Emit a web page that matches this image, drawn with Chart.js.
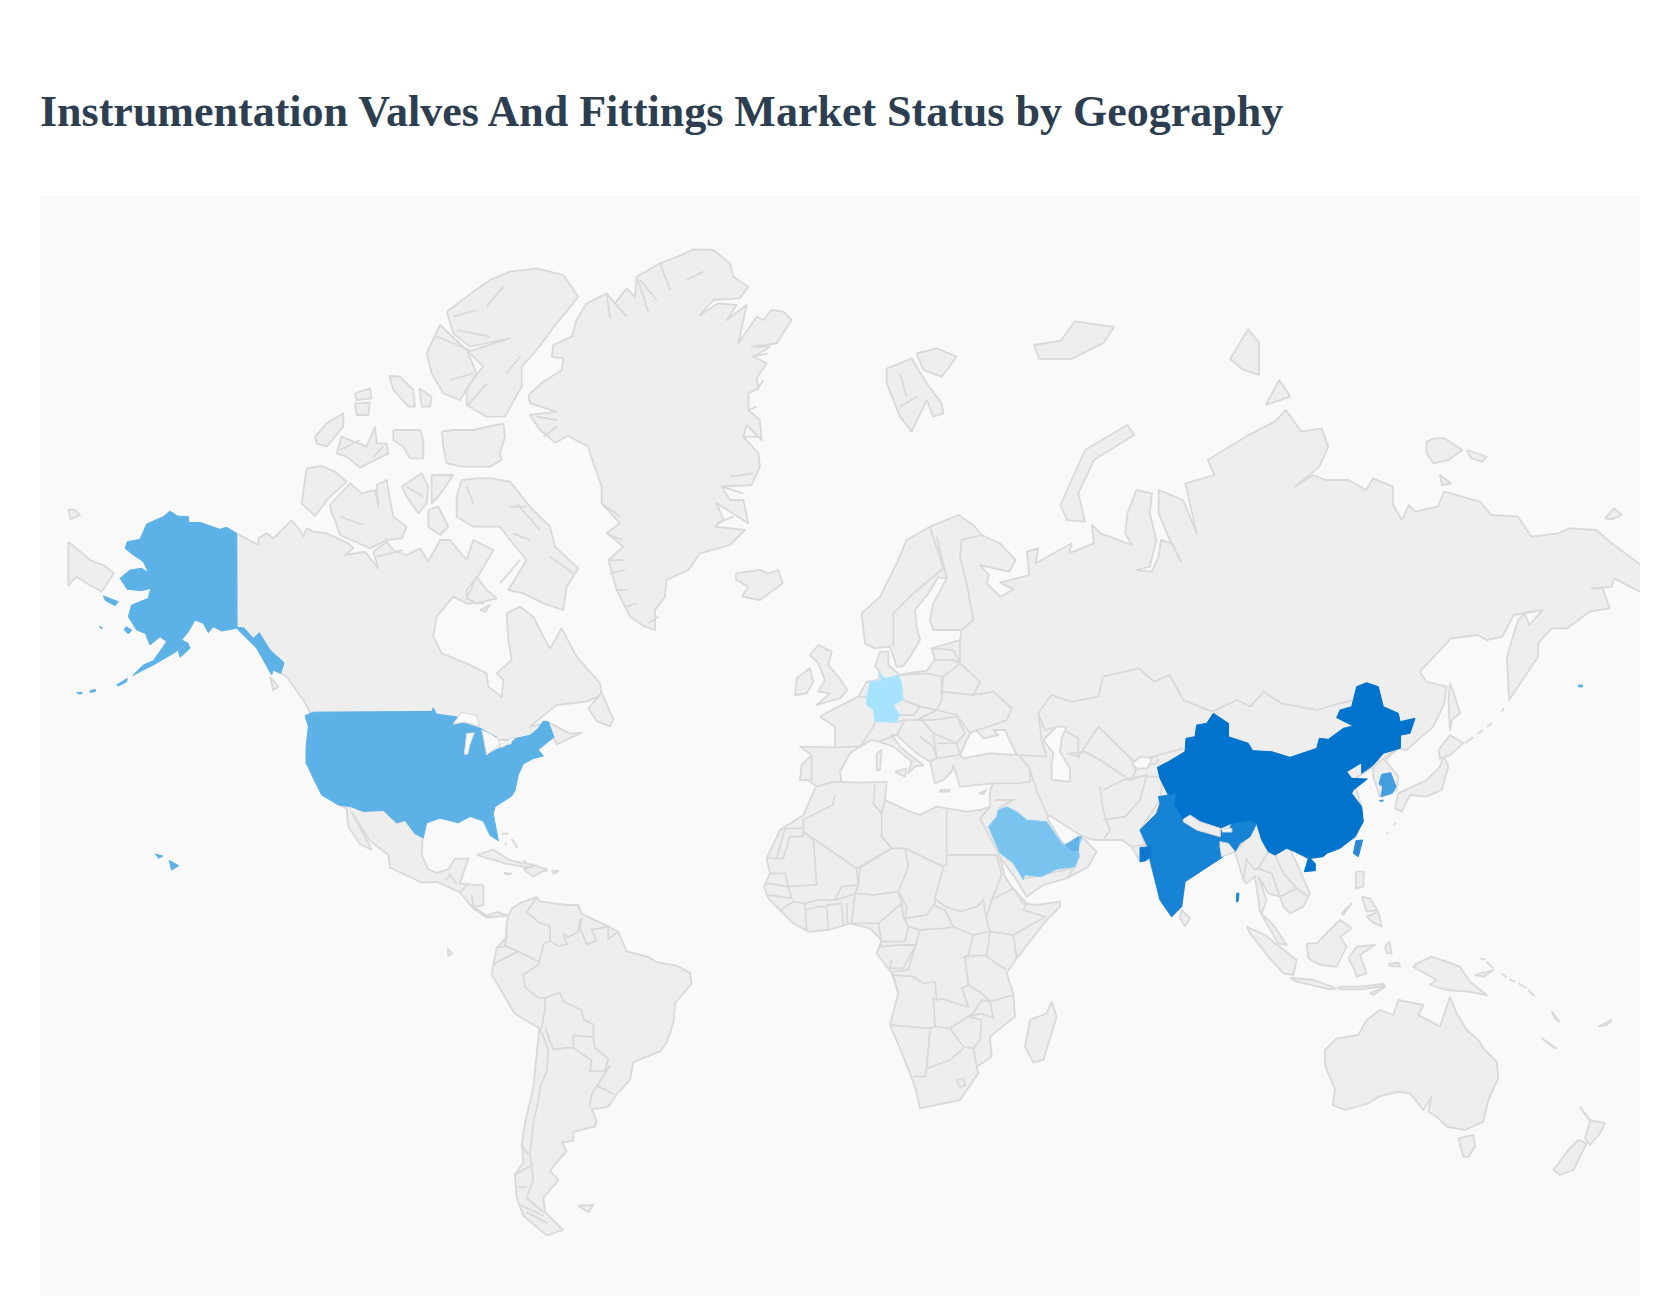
<!DOCTYPE html>
<html><head><meta charset="utf-8">
<style>
html,body{margin:0;padding:0;background:#fff;width:1680px;height:1304px;overflow:hidden}
h1{position:absolute;left:40px;top:85px;margin:0;font:bold 44px/54px "Liberation Serif","Times New Roman",serif;color:#2c3e50;white-space:nowrap}
#wrap{position:absolute;left:40px;top:196px;width:1600px;height:1100px;background:#f9f9f9}
</style></head><body>
<h1>Instrumentation Valves And Fittings Market Status by Geography</h1>
<div id="wrap"><canvas id="map" width="1600" height="1100"></canvas></div>
<script src="https://cdn.jsdelivr.net/npm/chart.js@4"></script>
<script>
// Reading frames: [originX, originY, scaleX, scaleY]
const NA=[40,240,3,3], GR=[500,240,3,3], RU=[960,380,2.24,3], AM=[280,680,3,2.8], AF=[760,640,3,3], AS=[1140,680,3,3], OV=[0,0,.9333,.9333];
const pts=(f,a)=>{const o=[];for(let i=0;i<a.length;i+=2)o.push({x:f[0]+a[i]/f[2],y:f[1]+a[i+1]/f[3]});return o;};

const colorUSA='#5cb1e6', colorChina='#0073cc', colorIndia='#1783d4', colorSaudi='#79c4ef', colorGermany='#a7e3fd', colorKorea='#439fe0', colorTaiwan='#2a8ad6';

// Canada and Arctic
const canadaMain=[590,880,655,915,655,895,680,880,700,895,735,860,755,842,780,870,790,890,800,865,820,875,860,880,925,910,940,925,915,945,975,935,1015,985,1000,935,1040,905,1060,930,1100,945,1140,925,1165,965,1200,900,1230,900,1280,960,1300,900,1360,930,1320,1000,1280,1050,1280,1075,1330,1090,1280,1090,1240,1070,1190,1130,1180,1190,1205,1240,1280,1270,1340,1300,1345,1340,1385,1370,1390,1320,1370,1300,1415,1260,1405,1200,1400,1120,1440,1100,1480,1130,1510,1190,1530,1225,1565,1165,1610,1250,1680,1330,1685,1365,1640,1385,1550,1395,1470,1459,1530,1449,1590,1481,1625,1478,1550,1513,1540,1491,1400,1500,1000,1500,822,1440,790,1380,740,1310,722,1300,700,1290,640,1195,590,1162];
const victoriaIs=[870,795,930,730,965,760,1005,750,1015,800,1010,735,1040,720,1050,780,1060,830,1100,860,1085,895,1040,900,990,925,900,885,885,840,875,820];
const banksIs=[800,685,845,678,885,695,920,725,865,775,825,828,785,790];
const melvilleIs=[890,640,905,590,955,610,980,620,1005,560,1010,610,1040,610,1045,640,960,683,920,650];
const patrickIs=[825,590,860,550,910,520,910,560,860,620,830,610];
const arcticA=[945,460,990,445,995,475,950,480], arcticB=[945,490,990,488,985,525,950,525], arcticC=[1048,408,1080,410,1120,450,1125,500,1105,500,1060,450], arcticD=[1138,445,1175,470,1170,500,1145,500];
const bathurstIs=[1060,570,1100,570,1140,570,1150,600,1150,655,1110,655,1090,620,1060,600];
const devonIs=[1205,575,1240,570,1300,570,1390,550,1395,590,1380,640,1385,660,1350,680,1265,680,1220,670,1210,620];
const walesIs=[1085,740,1145,700,1165,740,1160,790,1135,820,1100,770];
const somersetIs=[1175,705,1240,705,1195,770,1175,790];
const boothia=[1165,810,1195,800,1225,860,1200,885,1165,860];
const baffinIs=[1250,770,1265,720,1310,715,1360,715,1380,720,1410,725,1470,800,1530,860,1545,920,1615,985,1580,1040,1570,1110,1510,1090,1450,1060,1405,1050,1460,960,1410,900,1380,860,1300,860,1250,830];
const southamptonIs=[1280,1075,1310,1010,1340,1050,1370,1075,1310,1090];
const coatsIs=[1320,1110,1350,1095,1335,1115];
const ellesmereIs=[1220,215,1300,155,1350,120,1410,95,1490,85,1570,105,1615,170,1550,250,1490,330,1445,380,1445,440,1395,530,1340,530,1280,495,1280,440,1330,380,1285,335,1410,295,1290,320,1240,280];
const axelIs=[1160,340,1200,255,1280,330,1310,400,1260,480,1210,460,1175,400];
const vancouverIs=[690,1310,715,1340,700,1350];
const chukotkaWest=[85,905,150,960,190,975,222,1000,185,1055,140,1030,110,1010,85,1035];
const wrangelWest=[85,808,105,810,120,825,92,838];
const arcticFjords=[[1240,230,1310,210],[1250,270,1350,290],[1280,500,1340,430],[1190,290,1290,330],[1430,790,1500,870],[1380,1030,1440,960],[1530,950,1600,1000],[1410,800,1460,800],[1230,420,1300,400],[1340,200,1390,140],[1400,400,1440,350],[900,630,960,600],[1000,650,1030,620],[900,830,970,855],[1100,740,1150,770],[1280,740,1300,790],[1420,880,1470,900],[1010,950,1090,930]];

// Greenland and North Atlantic
const greenland=[85,465,130,425,185,390,190,355,155,350,160,315,215,290,230,240,260,190,320,160,345,190,380,145,405,170,410,110,480,70,545,45,580,28,640,30,690,70,700,110,745,140,720,175,640,180,600,225,655,190,710,195,680,240,740,195,715,310,770,230,790,240,815,210,850,215,875,240,830,310,755,320,810,320,760,350,800,370,770,415,775,445,745,460,745,510,780,540,785,600,740,555,730,590,775,640,780,680,755,735,665,740,690,780,730,780,745,850,650,790,670,840,645,860,735,870,690,915,600,940,565,990,500,1020,495,1070,465,1110,465,1170,435,1160,390,1130,350,1050,325,960,370,920,320,880,360,850,305,790,305,740,270,640,265,620,205,588,165,608,120,570,90,525,170,515,90,490];
const iceland=[708,1000,745,995,780,990,805,1000,835,990,848,1030,780,1080,725,1070,745,1040,708,1020];
const svalbardA=[1160,385,1200,370,1235,355,1280,430,1325,490,1330,520,1300,530,1280,480,1235,575,1200,530,1160,430];
const svalbardB=[1250,340,1310,325,1370,350,1325,410,1270,390];
const greenlandFjords=[[320,160,330,235],[345,190,380,230],[410,110,445,215],[420,120,470,180],[480,70,510,150],[560,120,610,95],[320,880,365,900],[305,790,360,830],[330,960,375,960],[330,1000,375,990],[350,1050,385,1050],[665,740,730,760],[690,710,760,700],[730,590,775,590],[650,850,700,830],[745,510,770,500],[775,445,790,420],[755,350,805,340],[110,530,170,540],[130,590,170,560],[380,1100,410,1090],[445,1150,475,1130],[1200,400,1220,470],[1200,500,1250,470]];

// Eurasia outline, in pieces
const eurasiaNorthWest=[355,120,360,95,345,80,360,35,385,35,385,75,420,105,440,100,500,92,525,60,515,25,600,0,605,-30,520,-30,510,-60,520,-110,560,-185,535,-188,505,-140,465,-90,470,-40,480,0,450,50,430,78,410,80,390,20,345,25,315,10,305,-80,360,-130,410,-230,440,-300,510,-340,595,-375,640,-345,665,-315,720,-290];
const eurasiaNorth=[125,540,110,575,60,560,45,555,65,585,60,610,90,650,120,628,90,608,155,585,150,515,175,505,170,550,250,490,245,520,300,490,295,435,315,460,385,495,370,460,375,400,395,330,430,340,425,400,440,480,425,560,395,570,430,575,445,530,450,480,475,490,495,545,470,480,445,400,445,330,500,360,530,460,505,310,570,285,555,240,640,170,705,125,730,90,765,155,810,145,825,200,805,260,750,320,790,285,820,300,870,300,910,330,925,295,970,320,970,375,990,420,1005,375,1020,395,1070,380,1085,335,1165,365,1190,405,1250,410,1280,470,1340,460,1365,445,1425,450,1460,490,1530,560,1530,640,1465,595,1460,620,1415,625,1440,625,1455,685,1410,695,1360,745,1325,745,1295,790,1295,830,1250,920,1230,960,1225,830,1250,720,1265,700,1275,735,1305,690,1240,705,1215,770,1180,780,1160,765,1100,775,1030,875,1045,905,1090,920,1085,970,1060,1040,1000,1110];
const eurasiaEast=[775,205,735,240,775,290,770,330,720,350,700,290,700,260,640,300,665,380,650,470,560,520,510,540,450,505,510,640,490,680,450,700,430,680,420,650,385,640,355,590,380,660,365,700,400,735,440,795,415,790,380,730,360,695,345,590,320,610,310,600,285,515,245,530,135,605,125,680,95,710,60,660,30,540,15,540,0,545];
const eurasiaSouthWest=[1140,665,1115,620,1085,600,1050,600,1000,600,970,590,945,575,870,527,862,535,905,605,935,625,960,590,975,600,1010,635,985,680,920,715,850,735,800,770,770,720,720,650,660,535,690,500,690,450,700,430,600,440,580,375,575,395,550,420,525,430,510,365,470,340,410,285,395,285,425,325,470,360,490,375,465,380,445,400,455,365,400,320,355,305,335,300,300,320,270,340,240,395,245,430,170,440,145,420,120,420,125,375,155,345,120,320,225,322,225,260,180,230,225,205,295,170,320,125];

// Islands of Europe and Asia
const britain=[150,45,175,15,215,35,205,75,235,110,262,150,240,175,170,195,210,160,175,155,195,120,175,70];
const ireland=[110,115,150,85,160,125,140,160,105,165];
const sardinia=[350,340,365,330,360,390,350,390], sicily=[405,395,440,385,435,410], crete=[540,450,570,450,568,455,540,455], cyprus=[655,460,680,450,670,462];
const novayaZemlya=[225,375,280,210,375,135,390,165,300,240,265,340,280,425,240,420];
const severnayaA=[685,75,715,0,740,50];
const severnayaB=[1148,335,1165,307,1175,320,1175,350,1160,345];
const franzJosef=[965,322,990,318,1003,300,1040,305,1030,320,1000,335,970,335];
const newSiberianA=[1045,185,1062,175,1085,175,1125,210,1095,240,1060,250,1045,220];
const newSiberianB=[1135,210,1180,230,1170,245,1145,235];
const newSiberianC=[1075,285,1100,310,1080,315];
const wrangelEast=[1445,415,1465,385,1482,405,1460,418];
const sakhalin=[930,10,945,50,960,100,935,120,930,150,925,60];
const honshu=[775,340,860,300,900,260,910,225,925,260,905,330,860,350,810,345,785,395,765,385];
const hokkaido=[895,210,930,165,970,190,930,225,900,235];
const sriLanka=[125,690,150,715,135,738,120,715];
const sumatra=[320,740,375,765,470,840,460,885,430,880,385,830,330,760];
const java=[450,893,520,900,590,925,570,928,470,905];
const lesserSunda=[595,920,660,920,730,912,735,918,660,928,600,928];
const borneo=[500,790,530,790,600,720,635,745,600,770,620,800,590,860,540,855,505,835];
const sulawesi=[625,835,650,800,705,795,660,825,680,880,650,890,640,860];
const luzon=[648,575,672,575,670,620,650,625];
const visayas=[665,650,690,655,712,690,680,695];
const mindanao=[680,710,715,695,725,740,695,725];
const palawan=[605,700,635,670,610,705];
const newGuinea=[830,850,875,830,920,845,960,860,990,905,1040,945,985,935,920,930,870,915,890,900,820,860];
const newBritain=[1005,885,1060,870,1030,890];
const timor=[690,940,735,920,700,945];
const seram=[745,852,775,848,780,860,750,858];
const halmahera=[735,800,748,785,755,820,742,820];
const australia=[555,1110,590,1075,655,1065,680,1020,720,990,760,1005,775,960,850,975,835,1005,900,1040,930,950,950,1000,980,1050,1015,1080,1030,1105,1070,1145,1075,1195,1045,1260,1030,1325,975,1350,920,1340,890,1310,865,1295,875,1250,850,1290,810,1240,775,1235,715,1250,685,1270,615,1290,578,1275,585,1230,555,1155];
const tasmania=[955,1375,1000,1365,1005,1400,985,1430,970,1430];
const nzNorth=[1320,1280,1350,1320,1395,1330,1380,1360,1350,1395,1335,1375,1350,1325];
const nzSouth=[1315,1380,1340,1390,1300,1470,1260,1485,1240,1470,1285,1410];
const fiji=[1375,1040,1415,1020,1400,1035];
const newCaledonia=[1205,1075,1248,1105,1240,1102];
const vanuatu=[1235,995,1258,1025,1245,1015];

// Americas
const newfoundland=[925,80,965,35,1000,110,990,130,950,115];
const mexicoCentral=[175,350,215,355,250,368,310,365,350,400,375,393,405,430,428,442,425,490,445,530,470,540,505,530,525,500,565,500,540,570,610,575,610,630,580,635,620,660,650,650,685,660,620,665,580,640,540,595,495,575,470,565,425,567,330,525,325,490,270,450,215,370,275,475,240,460,205,410,200,360];
const southAmerica=[685,660,695,640,720,625,770,608,780,620,860,630,895,630,905,655,985,690,1015,705,1040,760,1105,775,1130,790,1190,800,1230,820,1235,850,1185,905,1180,960,1160,1015,1140,1040,1060,1070,1050,1120,1010,1160,985,1195,950,1200,935,1200,950,1235,945,1250,880,1265,880,1290,845,1295,860,1320,830,1350,810,1375,835,1400,790,1450,795,1490,850,1540,800,1555,730,1500,710,1450,705,1385,730,1350,725,1300,735,1240,760,1140,778,975,705,935,670,880,635,825,640,795,650,750,680,720,680,680];
const falklands=[895,1472,940,1470,925,1490];
const galapagos=[503,752,516,765,505,772];
const cuba=[590,490,640,475,690,505,770,520,800,535,745,525,680,515];
const hispaniola=[730,530,765,520,800,530,760,550];
const jamaica=[672,540,695,542,680,545];
const puertoRico=[815,533,835,535,820,542];
const bahamas=[[665,430,685,430],[695,445,712,470],[730,505,740,512],[676,455,678,462]];
const chileFjords=[[725,1300,745,1330],[705,1385,760,1355],[715,1420,740,1420],[720,1470,790,1500],[740,1490,800,1520]];

// Africa
const africa=[170,440,220,425,300,428,380,425,375,480,440,510,480,525,530,500,620,515,660,510,690,500,660,535,720,650,735,710,790,790,830,795,900,785,900,800,860,840,770,955,740,1000,760,1060,765,1130,690,1190,695,1250,650,1280,655,1300,600,1380,480,1405,465,1340,430,1250,390,1155,415,1060,395,1000,350,940,365,900,330,865,270,850,205,870,145,875,100,850,60,810,25,775,12,740,30,700,20,655,60,570,130,525,165,445];
const madagascar=[875,1085,890,1130,850,1260,820,1268,795,1220,810,1140,860,1120];

// Inner borders
const bordersAfrica=[
[225,465,218,495,130,540,130,565,75,565,50,655],[345,430,340,490,365,520,365,590,395,625,290,685,130,575],[130,565,130,590,90,590,70,655,25,655],[130,575,160,600,170,735,85,740,75,700,30,700],[290,685,295,735,245,740,225,780,175,780,135,790],
[375,480,365,520],[560,510,560,675,550,680,435,625,395,625],[560,645,710,645],[550,680,525,775,555,800],[710,645,725,705,695,780,680,830],[435,625,445,680,415,755,440,800,435,835,500,825,525,790,525,775],[395,625,300,685,295,735,285,760,340,765,415,755],[285,760,275,850,355,850,425,790,415,755],[355,850,365,905,435,905,445,860,430,830,425,790],[445,860,480,870,550,865,580,860,555,810,520,795],[555,800,600,815,650,800,670,780,680,840,690,875,640,885,580,860],[695,780,760,745,800,790,790,810,855,830,760,885,690,875],[760,885,770,955],[690,875,680,950,740,990],[640,885,625,945,615,950,680,945],[480,870,445,990,395,995,400,1005,460,1010,490,1030,525,1025,530,1080,545,1075,600,1095,625,1100,605,1045,625,1035,615,950],[625,1035,665,1060,690,1085,760,1065],[400,1005,415,1060],[390,1155,510,1165,525,1160,520,1075,530,1080],[525,1160,570,1165,640,1120,665,1080,690,1085,700,1135,665,1120,625,1130,665,1140,660,1200,640,1225,650,1280],[570,1165,610,1220,640,1225],[510,1170,500,1285,495,1310,460,1310],[500,1285,570,1260,610,1225],[590,1320,610,1315,615,1335,600,1342,590,1320],[365,905,360,920,420,915,470,915],[395,960,390,985,430,985,470,910],[20,730,85,740,95,775,25,765],[60,810,100,785,135,790,140,870],[135,810,175,800,200,800,205,870],[200,795,245,790,250,860],[260,790,262,850],[175,780,225,780,260,770,285,760]];
const bordersEurope=[
[600,70,660,125,640,165,700,155,755,205,740,240,670,265,650,270],[600,70,550,110,545,155,640,165],[420,105,500,100,545,110,545,180,530,210,480,200,430,180],[520,60,580,60,600,70],[515,25,580,30,600,70],[530,210,590,225,630,280],[520,240,590,230,615,280,590,310,520,280,480,235,530,210],[530,310,590,310,600,345,530,355,520,280],[300,320,340,260,345,245],[355,305,410,285,435,240,408,247],[430,180,480,200,460,225,420,225],[435,240,520,240],[480,290,520,320,530,355,510,365],[320,170,295,170],[225,322,300,320],[155,345,155,420],[770,345,860,350],[600,0,600,70],[605,-30,640,-60,620,-170,600,-250,605,-300,665,-315],[510,-340,550,-215,460,-140,400,-80,400,20],[560,-185,530,-310]];
const bordersAsiaWest=[
[810,390,835,465,865,530],[700,430,770,430,810,425,810,385,780,350],[705,480,760,480,715,505],[795,715,915,690,945,680,920,715],[930,340,975,335,1020,360,1110,420,1160,405],[920,340,960,350],[1020,440,1030,515,1050,570,1030,600],[1030,450,1090,420,1160,405,1140,480,1095,530,1030,540],[1160,410,1210,410,1200,480,1140,570,1155,615,1115,620],[1120,385,1190,370,1195,355],[860,350,845,300,835,220]];
const bordersAsiaNorth=[[175,1000,205,945,250,965,310,950,320,890,400,865,435,905,470,885,500,960,565,995,620,960,650,980,680,935,720,970,800,990,850,970,885,960],[175,1000,190,1050,220,1040,265,1075,265,1130,310,1040,390,1145,445,1125,500,1105],[385,1200,400,1150,445,1125]];
const bordersAsiaEast=[[285,515,300,500,345,445],[310,600,320,540,345,570,355,565,395,580,420,650,470,625,505,650],[405,525,430,580,470,625],[355,565,385,515],[700,260,770,205]];
const bordersSouthAmerica=[
[770,610,740,650,780,680,810,690,810,730,790,740,778,790,715,760,675,745,680,690],[640,800,650,790,715,760],[650,750,675,745],[778,795,730,825,735,860,775,890,795,890,795,920,785,975],[795,890,840,875,850,900,905,925,910,950,940,965,940,1000,880,995,880,1030,855,1030,820,1035,795,975],[880,1030,935,1065,930,1095,975,1095,985,1060,945,1030,940,1000],[780,975,805,1035,800,1095,780,1140,775,1180,760,1240,750,1330,760,1400,740,1450,790,1490],[975,1095,990,1080,935,1160,928,1195],[950,1135,1000,1160],[905,665,900,695,920,740,950,730,935,700,985,690,985,725,1015,705],[850,710,865,720,895,705,900,670],[810,730,835,745,860,740,850,710],[497,560,510,545,530,570],[540,595,565,570],[580,635,575,600]];
const kurileDashes=[[975,190,1000,172],[1012,162,1030,150],[1042,140,1055,130],[1085,95,1092,85],[760,435,768,430],[740,462,745,458]];
const pacificDashes=[[1085,880,1100,893],[1108,898,1125,905],[1135,910,1160,925],[1165,930,1185,950],[1020,835,1035,838],[1040,845,1060,865]];

// Water over land
const blackSea=[600,345,630,280,650,270,670,295,715,285,700,270,735,270,770,345,690,340,610,355];
const caspian=[850,300,890,260,920,260,905,295,900,335,930,385,930,425,875,420,875,375,880,340];
const aral=[385,1150,405,1130,430,1135,420,1165,395,1165];
const lakeSuperior=[520,122,545,90,590,100,600,130,555,118];
const lakeMichigan=[560,150,583,148,570,180,563,208,553,208];
const lakeHuron=[605,140,630,150,655,165,660,180,620,210,610,160];
const lakeOntario=[660,182,700,160,705,165,665,190];

// Highlighted countries
const alaska=[390,813,412,828,445,830,447,848,480,847,540,868,560,862,590,880,591,1162,612,1164,640,1195,658,1178,690,1230,732,1268,722,1300,700,1290,695,1305,670,1260,650,1225,620,1195,590,1165,545,1173,520,1160,505,1178,490,1150,465,1140,445,1175,425,1200,445,1210,400,1240,340,1275,300,1295,278,1307,310,1275,340,1262,380,1205,360,1190,330,1215,316,1180,290,1170,265,1130,275,1095,325,1075,332,1045,305,1052,262,1048,240,1015,270,990,305,985,325,998,310,965,280,945,255,925,262,905,300,898,320,852,370,830];
const alaskaIslandA=[190,1068,235,1085,225,1097,197,1082], alaskaIslandB=[258,1160,275,1170,265,1182,253,1170], alaskaIslandC=[415,1232,445,1212,450,1225,420,1252], alaskaIslandD=[230,1335,262,1315,260,1325,235,1338], alaskaIslandE=[150,1352,165,1348,165,1355,150,1357], alaskaIslandF=[110,1358,128,1358,120,1363], alaskaIslandG=[177,1160,187,1163,185,1166];
const usaMain=[75,100,100,90,455,88,460,78,468,95,540,105,515,128,550,120,600,135,650,160,660,180,612,213,660,190,695,180,700,165,750,155,775,135,790,115,805,117,822,160,775,195,790,213,760,220,730,235,715,265,705,310,695,325,645,355,640,375,655,450,630,435,610,395,570,382,535,400,480,387,440,400,430,442,405,430,375,393,350,400,310,365,250,368,215,355,175,350,125,322,105,285,80,235,78,190,85,130];
const hawaiiA=[158,803,167,808,160,812], hawaiiB=[145,797,152,799,148,801];
const attu=[1315,15,1327,15,1327,21,1315,20];
const china=[220,100,265,130,265,170,325,190,338,212,395,215,450,232,530,205,538,175,565,178,610,145,640,138,590,113,600,90,635,80,650,20,680,8,715,20,730,80,775,100,780,125,825,115,810,160,782,165,780,205,730,220,700,255,665,280,665,248,620,275,635,295,682,297,640,330,635,340,665,380,670,425,645,470,600,505,560,520,550,530,510,535,525,550,525,572,493,575,505,535,465,515,440,505,405,525,385,515,365,480,350,430,330,420,275,430,240,445,180,425,150,405,130,418,105,375,110,335,85,345,60,295,52,262,85,245,135,215,138,175,165,170,170,135,200,130];
const india=[55,350,85,345,110,335,115,380,135,410,130,425,170,450,240,470,245,450,270,445,275,430,330,420,350,430,330,470,300,490,285,515,265,490,245,485,240,500,250,530,135,605,125,680,95,710,60,660,30,540,25,505,0,450,50,400,60,370];
const gujarat=[0,503,30,500,32,530,15,543,0,545];
const andaman=[290,640,297,640,294,665,288,665];
const nepal=[130,418,150,405,180,425,240,445,240,470,170,450,130,425];
const bhutan=[247,447,275,445,275,456,247,456];
const bangladesh=[240,485,265,490,285,515,245,530,240,500];
const saudi=[740,500,770,515,800,540,860,545,905,610,935,630,955,590,965,590,955,625,958,650,945,680,890,688,845,710,795,705,790,720,760,670,720,640,685,560,710,530,715,510];
const uaeOverlay=[915,615,955,590,955,630,935,632];
const germany=[355,95,375,115,415,105,425,130,430,180,400,195,420,225,408,247,345,245,340,210,320,195,320,170,330,125,365,122];
const southKorea=[725,283,752,278,768,320,757,340,723,350,728,320,717,312];
const jeju=[717,362,730,360,728,365];
const taiwan=[648,482,668,480,655,530,640,520];

const landFill='#eeeeee', landLine='#d9d9d9', waterFill='#fafafa';
const landShapes=[], upperShapes=[], lines=[];
const add=(list,d,fill,line,w=1.8)=>list.push({d,fill,line,w});
const land=(f,...l)=>l.forEach(a=>add(landShapes,pts(f,a),landFill,landLine));
land(NA,canadaMain,victoriaIs,banksIs,melvilleIs,patrickIs,arcticA,arcticB,arcticC,arcticD,bathurstIs,devonIs,walesIs,somersetIs,boothia,baffinIs,southamptonIs,coatsIs,ellesmereIs,axelIs,vancouverIs,chukotkaWest,wrangelWest);
land(GR,greenland,iceland,svalbardA,svalbardB);
add(landShapes,[...pts(AF,eurasiaNorthWest),...pts(RU,eurasiaNorth),...pts(AS,eurasiaEast),...pts(AF,eurasiaSouthWest)],landFill,landLine);
land(AF,britain,ireland,sardinia,sicily,crete,cyprus,africa,madagascar);
land(RU,novayaZemlya,severnayaA,newSiberianA,newSiberianB,newSiberianC,wrangelEast);
land(OV,severnayaB,franzJosef);
land(AS,sakhalin,honshu,hokkaido,sriLanka,sumatra,java,lesserSunda,borneo,sulawesi,luzon,visayas,mindanao,palawan,newGuinea,newBritain,timor,seram,halmahera,australia,tasmania,nzNorth,nzSouth,fiji,newCaledonia,vanuatu);
land(AM,newfoundland,mexicoCentral,southAmerica,falklands,galapagos,cuba,hispaniola,jamaica,puertoRico);

bordersAfrica.concat(bordersEurope,bordersAsiaWest).forEach(a=>lines.push(pts(AF,a)));
bordersAsiaNorth.forEach(a=>lines.push(pts(RU,a)));
bordersAsiaEast.concat(kurileDashes,pacificDashes).forEach(a=>lines.push(pts(AS,a)));
bordersSouthAmerica.concat(bahamas,chileFjords).forEach(a=>lines.push(pts(AM,a)));
arcticFjords.forEach(a=>lines.push(pts(NA,a)));
greenlandFjords.forEach(a=>lines.push(pts(GR,a)));

[blackSea,caspian].forEach(a=>add(upperShapes,pts(AF,a),waterFill,landLine));
add(upperShapes,pts(RU,aral),waterFill,landLine);
const over=(f,a,c,l=c)=>add(upperShapes,pts(f,a),c,l,1);
over(NA,alaska,colorUSA);
[alaskaIslandA,alaskaIslandB,alaskaIslandC,alaskaIslandD,alaskaIslandE,alaskaIslandF,alaskaIslandG].forEach(a=>over(NA,a,colorUSA));
over(AM,usaMain,colorUSA);over(OV,hawaiiA,colorUSA);over(OV,hawaiiB,colorUSA);over(AS,attu,colorUSA);
[lakeSuperior,lakeMichigan,lakeHuron,lakeOntario].forEach(a=>over(AM,a,waterFill,landLine));
over(AS,india,colorIndia);over(AS,gujarat,'#1077cf');over(AS,andaman,colorIndia);
over(AS,china,colorChina);
over(AS,nepal,landFill,landLine);over(AS,bhutan,waterFill,landLine);over(AS,bangladesh,landFill,landLine);
over(AF,saudi,colorSaudi,'#8ccdf1');over(AF,uaeOverlay,'#62b3e8');over(AF,germany,colorGermany,'#b7e8fd');
over(AS,southKorea,colorKorea);over(AS,jeju,colorKorea);over(AS,taiwan,colorTaiwan);

const total=landShapes.length+lines.length+upperShapes.length;
let n=0;
const poly=s=>({data:[...s.d,s.d[0]],showLine:true,fill:'shape',backgroundColor:s.fill,borderColor:s.line,borderWidth:s.w,borderJoinStyle:'round',pointRadius:0,tension:0,order:total-(n++)});
const datasets=[
  ...landShapes.map(poly),
  ...lines.map(l=>({data:l,showLine:true,fill:false,borderColor:landLine,borderWidth:1.8,pointRadius:0,tension:0,order:total-(n++)})),
  ...upperShapes.map(poly)
];

new Chart(document.getElementById('map'),{type:'scatter',data:{datasets},options:{
  responsive:false,animation:false,events:[],
  layout:{padding:0},
  plugins:{legend:{display:false},tooltip:{enabled:false},title:{display:false}},
  scales:{x:{type:'linear',min:40,max:1640,display:false},y:{type:'linear',min:196,max:1296,reverse:true,display:false}}
}});
</script></body></html>
